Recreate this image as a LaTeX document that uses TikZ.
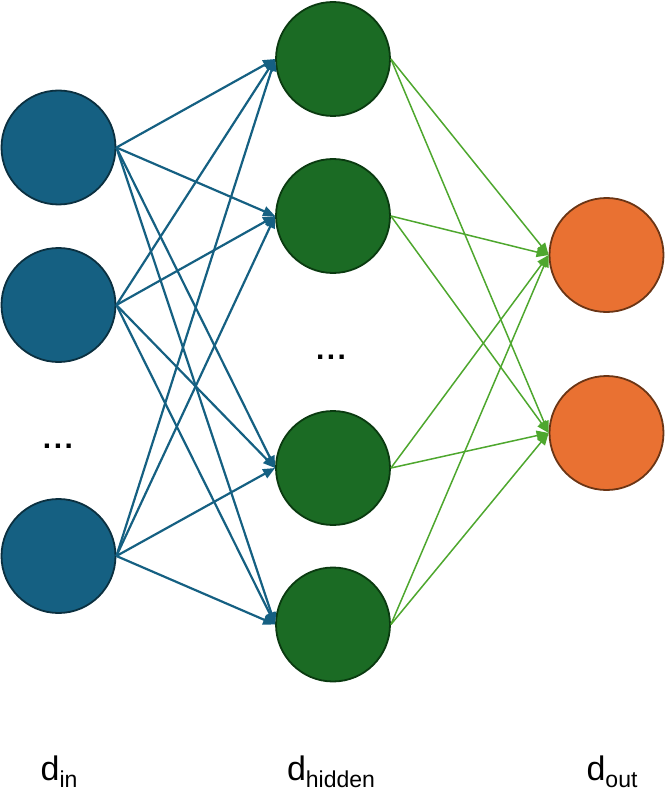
\documentclass[tikz,border=0pt]{standalone}
\usepackage{fontspec}
\setmainfont{Liberation Sans}
\usetikzlibrary{arrows.meta}
\definecolor{inblue}{HTML}{156082}
\definecolor{inborder}{HTML}{0B3040}
\definecolor{hidgreen}{HTML}{1B6B24}
\definecolor{hidborder}{HTML}{0A3A10}
\definecolor{outorange}{HTML}{E97132}
\definecolor{outborder}{HTML}{6B3515}
\definecolor{arrgreen}{HTML}{4EA72E}
\newcommand{\mylabel}[2]{{\fontsize{34}{34}\selectfont #1\raisebox{-7pt}{\fontsize{23}{23}\selectfont #2}}}
\newcommand{\mydots}{.\hspace{2.5pt}.\hspace{2.5pt}.}
\begin{document}
\begin{tikzpicture}[x=1pt,y=-1pt,
  neuron/.style={circle, minimum size=114pt, inner sep=0pt, line width=1.8pt},
  inneuron/.style={neuron, fill=inblue, draw=inborder},
  hidneuron/.style={neuron, fill=hidgreen, draw=hidborder},
  outneuron/.style={neuron, fill=outorange, draw=outborder},
  barrow/.style={-{Triangle[length=12pt,width=10pt]}, line width=2.2pt, draw=inblue},
  garrow/.style={-{Triangle[length=12pt,width=10pt]}, line width=1.5pt, draw=arrgreen},
  dots/.style={font=\fontsize{30}{30}\selectfont\bfseries, inner sep=0pt},
  lbl/.style={inner sep=0pt, anchor=base}]
\useasboundingbox (0,0) rectangle (666,810);

\node[inneuron] (i1) at (58.5,147.5) {};
\node[inneuron] (i2) at (58.5,305) {};
\node[inneuron] (i3) at (58.5,556) {};

\node[hidneuron] (h1) at (333,59) {};
\node[hidneuron] (h2) at (333,216) {};
\node[hidneuron] (h3) at (333,468) {};
\node[hidneuron] (h4) at (333,624.5) {};

\node[outneuron] (o1) at (606.5,255) {};
\node[outneuron] (o2) at (606.5,433) {};

\foreach \i in {1,2,3}{
  \foreach \h in {1,2,3,4}{
    \draw[barrow] (i\i.east) -- (h\h.west);
  }
}
\foreach \h in {1,2,3,4}{
  \foreach \o in {1,2}{
    \draw[garrow] (h\h.east) -- (o\o.west);
  }
}

\node[dots] (d1) at (58,446) {\mydots};
\node[dots] (d2) at (331,357) {\mydots};

\node[lbl] (l1) at (59,780) {\mylabel{d}{in}};
\node[lbl] (l2) at (331,780) {\mylabel{d}{hidden}};
\node[lbl] (l3) at (612,780) {\mylabel{d}{out}};
\end{tikzpicture}
\end{document}
